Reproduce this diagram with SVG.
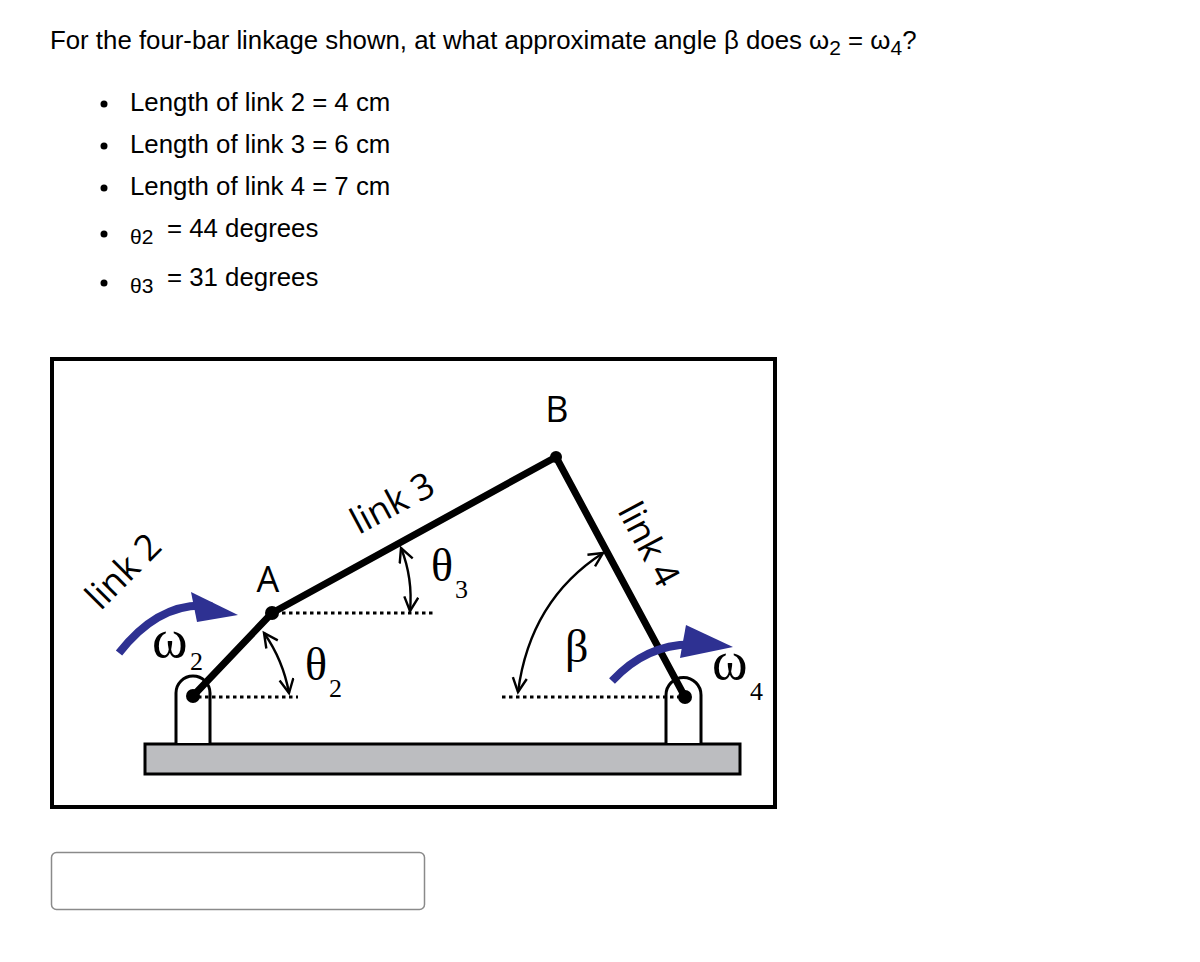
<svg xmlns="http://www.w3.org/2000/svg" width="1200" height="962" viewBox="0 0 1200 962">
<style>
.t{font-family:"Liberation Sans",Arial,sans-serif;font-size:25.8px;fill:#000}
.lbl{font-family:"Open Sans","DejaVu Sans",sans-serif;font-size:36px;fill:#000}
.gr{font-family:"Liberation Serif","Times New Roman",serif;font-size:46px;fill:#000}
.om{font-family:"Liberation Serif","Times New Roman",serif;font-size:54px;fill:#000}
.sub{font-family:"Liberation Serif","Times New Roman",serif;font-size:26px;fill:#000}
.link{stroke:#000;stroke-width:7;stroke-linecap:round;fill:none}
.dot{stroke:#000;stroke-width:3;stroke-dasharray:3.5 3.5;fill:none}
.thin{stroke:#000;stroke-width:2.4;fill:none}
.blue{stroke:#2e3192;stroke-width:8;fill:none}
</style>
<defs>
<marker id="ah" markerWidth="20" markerHeight="20" refX="15" refY="8" orient="auto-start-reverse" markerUnits="userSpaceOnUse">
<path d="M1,1 L15,8 L1,15" fill="none" stroke="#000" stroke-width="2.4"/>
</marker>
</defs>
<g id="question">
<text class="t" x="50" y="49" font-size="26.4">For the four-bar linkage shown, at what approximate angle β does ω<tspan font-size="21" dy="6">2</tspan><tspan dy="-6"> = ω</tspan><tspan font-size="21" dy="6">4</tspan><tspan dy="-6">?</tspan></text>
<g class="t">
<circle cx="104" cy="104" r="3.5"/><text x="130" y="111">Length of link 2 = 4 cm</text>
<circle cx="104" cy="146" r="3.5"/><text x="130" y="153">Length of link 3 = 6 cm</text>
<circle cx="104" cy="188" r="3.5"/><text x="130" y="195">Length of link 4 = 7 cm</text>
<circle cx="104" cy="234" r="3.5"/><text x="130" y="244" font-size="21">θ2</text><text x="167" y="237">= 44 degrees</text>
<circle cx="104" cy="283" r="3.5"/><text x="130" y="293" font-size="21">θ3</text><text x="167" y="286">= 31 degrees</text>
</g>
</g>
<g id="frame"><rect x="52" y="359" width="723" height="448" fill="#fff" stroke="#000" stroke-width="4"/></g>
<g id="ground"><rect x="145" y="744" width="595" height="30" fill="#bcbdc0" stroke="#000" stroke-width="3"/></g>
<g id="support2"><path d="M176,743 V693 A17,17 0 0 1 210,693 V743" fill="#fff" stroke="#000" stroke-width="3"/></g>
<g id="support4"><path d="M666,743 V695 A17.5,17.5 0 0 1 701,695 V743" fill="#fff" stroke="#000" stroke-width="3"/></g>
<g id="connectors">
<line class="dot" x1="198" y1="697" x2="298" y2="697"/>
<line class="dot" x1="282" y1="613" x2="433" y2="613"/>
<line class="dot" x1="502" y1="697" x2="685" y2="697"/>
<line class="link" x1="193" y1="696" x2="272" y2="613"/>
<line class="link" x1="272" y1="613" x2="556" y2="457"/>
<line class="link" x1="556" y1="457" x2="685" y2="697"/>
<path class="thin" d="M264,633 Q283,660 289,693" marker-start="url(#ah)" marker-end="url(#ah)"/>
<path class="thin" d="M401,548 Q413,578 410,611" marker-start="url(#ah)" marker-end="url(#ah)"/>
<path class="thin" d="M518,692 Q530,600 603,553" marker-start="url(#ah)" marker-end="url(#ah)"/>
<path class="blue" d="M119,653 Q160,600 212,606"/>
<path d="M191,592 L238,615 L197,622 Z" fill="#2e3192"/>
<path class="blue" d="M612,681 Q650,640 702,645"/>
<path d="M686,625 L733,647 L680,658 Z" fill="#2e3192"/>
</g>
<g id="joints">
<circle cx="193" cy="696" r="7"/>
<circle cx="272" cy="613" r="7"/>
<circle cx="556" cy="457" r="6"/>
<circle cx="685" cy="697" r="7"/>
</g>
<g id="labels">
<text class="lbl" transform="translate(132,580) rotate(-45)" text-anchor="middle">link 2</text>
<text class="lbl" transform="translate(398,514) rotate(-28)" text-anchor="middle">link 3</text>
<text class="lbl" transform="translate(638,550) rotate(62)" text-anchor="middle">link 4</text>
<text class="lbl" x="268" y="592" text-anchor="middle">A</text>
<text class="lbl" x="557" y="422" text-anchor="middle">B</text>
<text class="om" x="152" y="657">ω</text><text class="sub" x="190" y="670">2</text>
<text class="gr" x="305" y="680">θ</text><text class="sub" x="329" y="697">2</text>
<text class="gr" x="431" y="581">θ</text><text class="sub" x="455" y="598">3</text>
<text class="gr" x="565" y="662">β</text>
<text class="om" x="712" y="679">ω</text><text class="sub" x="750" y="700">4</text>
</g>
<g id="answer"><rect x="51.5" y="852.5" width="373" height="57" rx="5" fill="#fff" stroke="#8a8a8a" stroke-width="1.5"/></g>
</svg>
